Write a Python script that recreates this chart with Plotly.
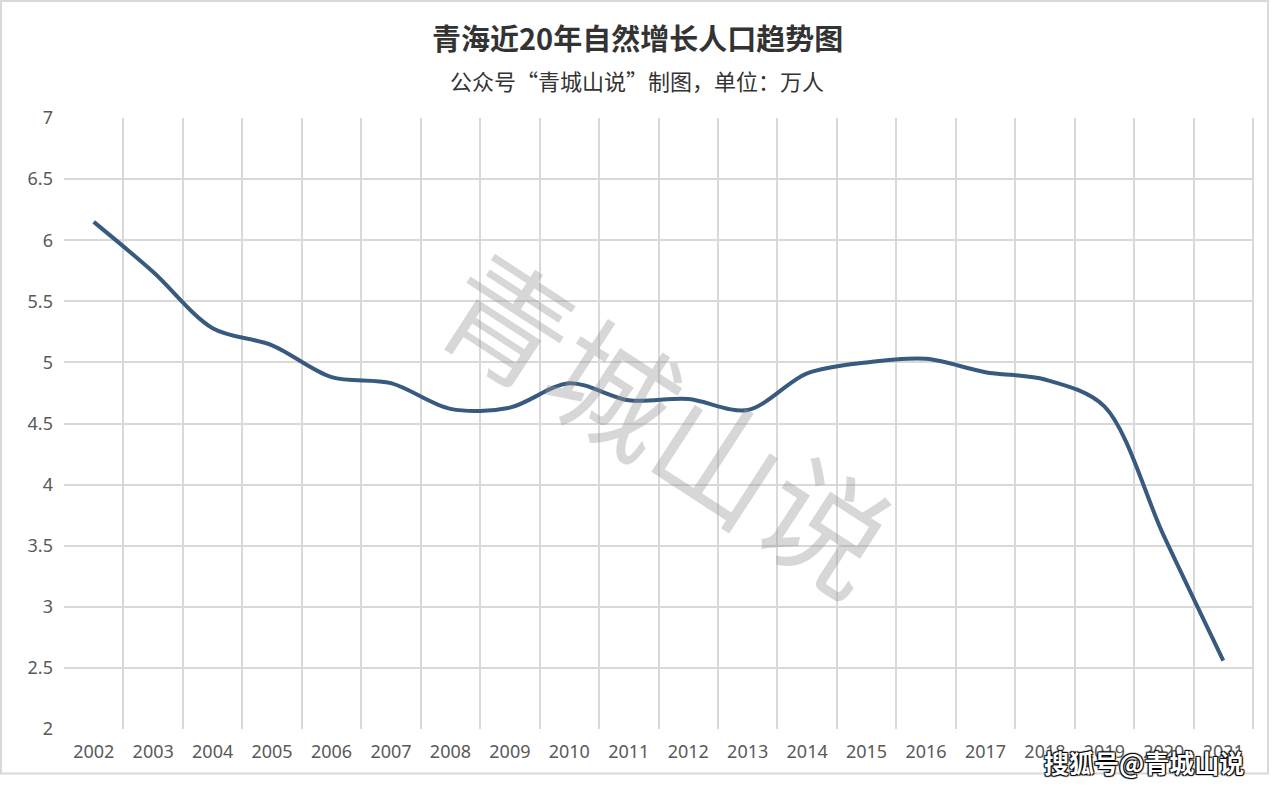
import plotly.graph_objects as go

years = ["2002", "2003", "2004", "2005", "2006", "2007", "2008", "2009", "2010", "2011",
         "2012", "2013", "2014", "2015", "2016", "2017", "2018", "2019", "2020", "2021"]
growth = [6.15, 5.74, 5.28, 5.14, 4.88, 4.83, 4.62, 4.63, 4.83, 4.69,
          4.70, 4.61, 4.91, 5.00, 5.03, 4.92, 4.86, 4.64, 3.58, 2.56]
y_ticks = [2, 2.5, 3, 3.5, 4, 4.5, 5, 5.5, 6, 6.5, 7]
y_tick_text = ["2", "2.5", "3", "3.5", "4", "4.5", "5", "5.5", "6", "6.5", "7"]

title_text = "青海近20年自然增长人口趋势图"
subtitle_text = "公众号“青城山说”制图，单位：万人"
watermark_text = "青城山说"
credit_text = "搜狐号@青城山说"

W, H = 1273, 788
L, R, T, B = 64, 20, 118, 59
pw, ph = W - L - R, H - T - B

def px(x):
    return (x - L) / pw

def py(y):
    return (H - B - y) / ph

fig = go.Figure()
fig.add_trace(go.Scatter(
    x=years, y=growth, mode="lines",
    line=dict(color="#375a7e", width=4, shape="spline", smoothing=0.9),
    hoverinfo="x+y", showlegend=False,
))

fig.update_layout(
    width=W, height=H,
    margin=dict(l=L, r=R, t=T, b=B),
    paper_bgcolor="white", plot_bgcolor="white",
    font=dict(family="Noto Sans, Noto Sans CJK SC, sans-serif", color="#595959", size=18),
    xaxis=dict(
        type="category", tickson="boundaries", showgrid=True, gridcolor="#d9d9d9",
        gridwidth=2, ticks="", showline=False, zeroline=False,
        tickfont=dict(size=18, color="#595959"), ticklabelstandoff=10,
        range=[-0.5, len(years) - 0.5],
    ),
    yaxis=dict(
        range=[2, 7], tickvals=y_ticks, ticktext=y_tick_text, showgrid=True,
        gridcolor="#d9d9d9", gridwidth=2, zeroline=False, showline=False, ticks="",
        tickfont=dict(size=18, color="#595959"), ticklabelstandoff=10,
    ),
    shapes=[
        dict(type="rect", xref="paper", yref="paper",
             x0=px(1), x1=px(1268), y0=py(773.5), y1=py(1),
             line=dict(color="#d9d9d9", width=2), fillcolor="rgba(0,0,0,0)", layer="below"),
        dict(type="line", xref="paper", yref="paper",
             x0=1, x1=1, y0=0, y1=1, line=dict(color="#d9d9d9", width=2)),
    ],
    annotations=[
        dict(text="<b>" + title_text + "</b>", xref="paper", yref="paper",
             x=px(637), y=py(37), showarrow=False, xanchor="center", yanchor="middle",
             font=dict(family="Noto Sans CJK SC", size=29, color="#333333")),
        dict(text=subtitle_text, xref="paper", yref="paper",
             x=px(637), y=py(80), showarrow=False, xanchor="center", yanchor="middle",
             font=dict(family="Noto Sans CJK SC", size=22, color="#333333")),
        dict(text=watermark_text, xref="paper", yref="paper",
             x=px(670), y=py(418), showarrow=False, xanchor="center", yanchor="middle",
             textangle=33,
             font=dict(family="Noto Sans CJK SC", size=126, color="rgba(150,150,150,0.38)")),
        dict(text="<b>" + credit_text + "</b>", xref="paper", yref="paper",
             x=px(1144), y=py(762), showarrow=False, xanchor="center", yanchor="middle",
             font=dict(family="Noto Sans CJK SC", size=25, color="white",
                       shadow="-1px -1px 1px #000, 1px -1px 1px #000, -1px 1px 1px #000, 1px 1px 1px #000")),
    ],
)

fig.write_html("out.html")
